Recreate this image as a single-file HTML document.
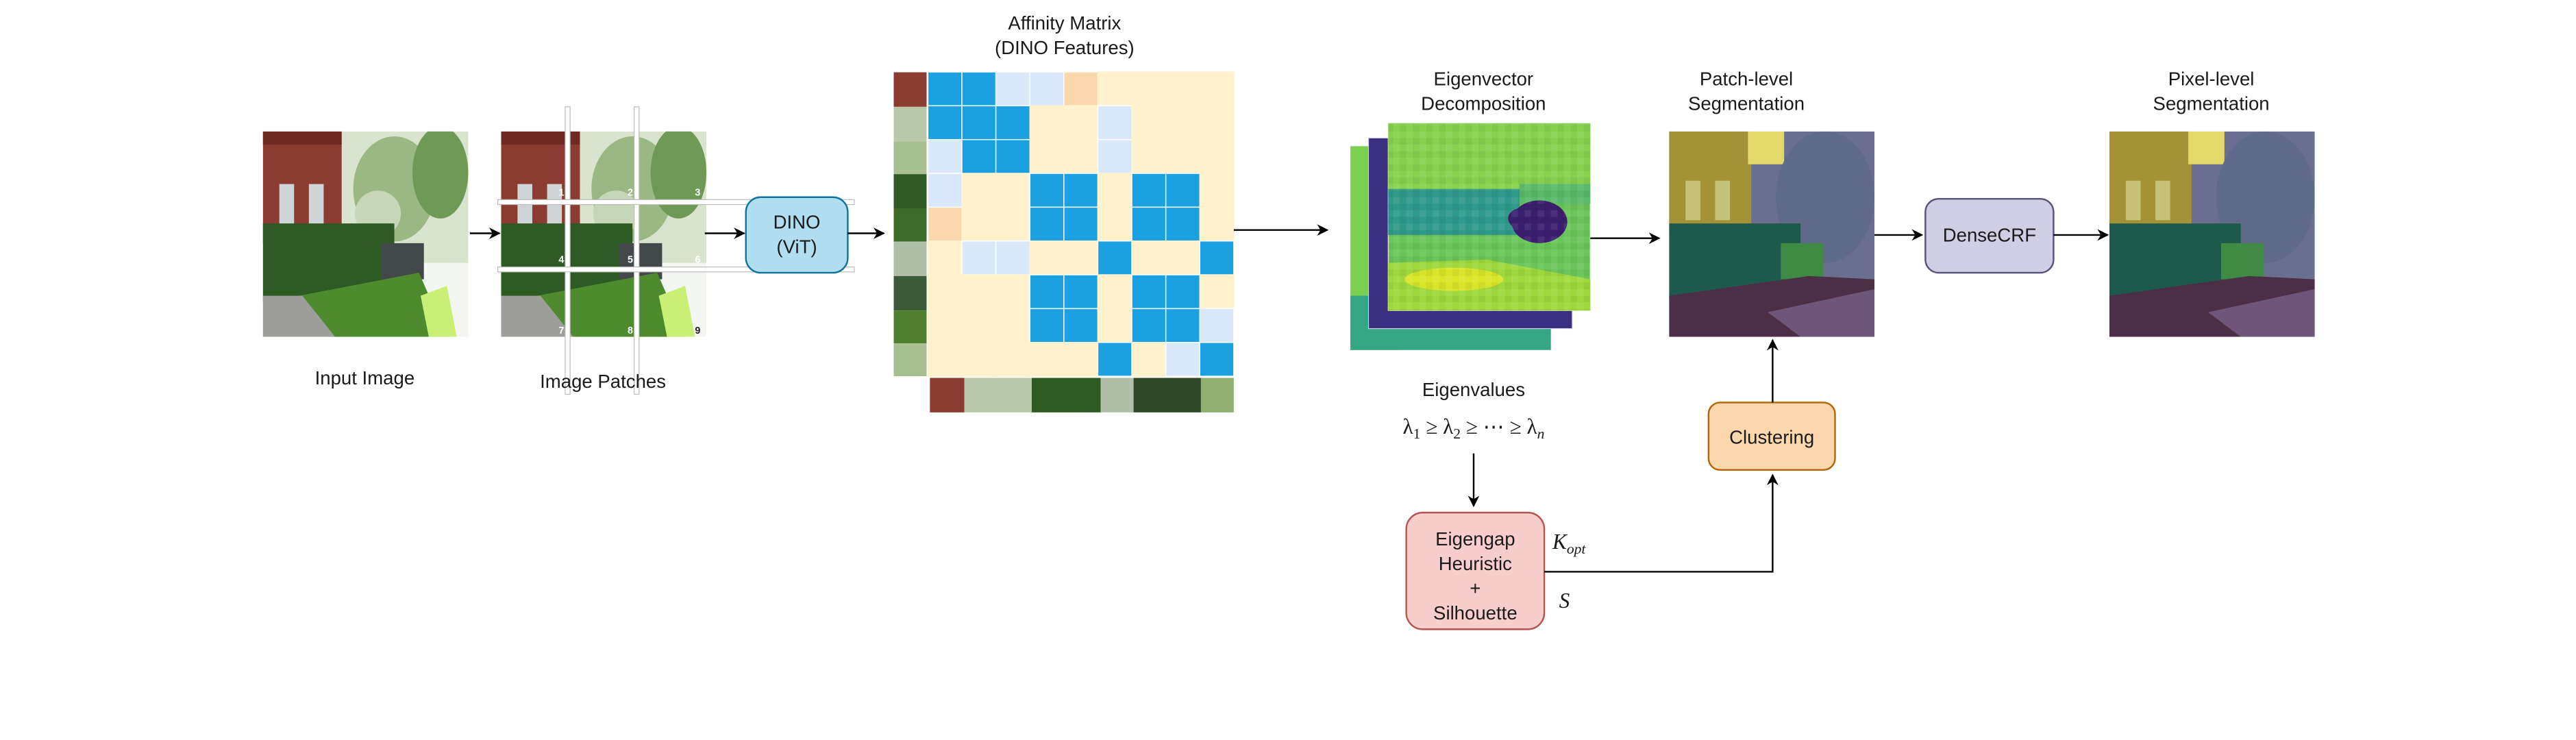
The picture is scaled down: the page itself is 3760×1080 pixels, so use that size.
<!DOCTYPE html>
<html><head><meta charset="utf-8"><style>
html,body{margin:0;padding:0;background:#fff;}
svg{display:block;}
text{font-family:"Liberation Sans","DejaVu Sans",sans-serif;fill:#1a1a1a;}
</style></head><body>
<svg width="3760" height="1080" viewBox="0 0 1568 450.4" xmlns="http://www.w3.org/2000/svg">
<defs>
<marker id="ah" viewBox="0 0 10 10" refX="9" refY="5" markerWidth="7" markerHeight="7" orient="auto" markerUnits="userSpaceOnUse">
<path d="M0,0 L10,5 L0,10 L3,5 z" fill="#000"/></marker>
<clipPath id="box"><rect x="0" y="0" width="125" height="125"/></clipPath>
<g id="scene" clip-path="url(#box)">
<rect x="0" y="0" width="125" height="125" fill="#f4f6f2"/>
<rect x="0" y="0" width="48" height="68" fill="#8b3b2f"/>
<rect x="0" y="0" width="48" height="8" fill="#6e2a22"/>
<rect x="10" y="32" width="9" height="26" fill="#cdd5d6"/>
<rect x="28" y="32" width="9" height="26" fill="#cdd5d6"/>
<rect x="48" y="0" width="77" height="80" fill="#d9e4cf"/>
<ellipse cx="80" cy="35" rx="25" ry="32" fill="#9ab884"/>
<ellipse cx="108" cy="25" rx="17" ry="28" fill="#6f9a55"/>
<ellipse cx="70" cy="50" rx="14" ry="14" fill="#c6d6b8"/>
<rect x="0" y="56" width="80" height="48" fill="#2e5a24"/>
<rect x="72" y="68" width="26" height="22" fill="#43484a"/>
<polygon points="22,100 95,86 112,125 42,125" fill="#4e8a2e"/>
<polygon points="0,100 24,100 44,125 0,125" fill="#9d9d9a"/>
<polygon points="96,100 112,94 118,125 101,125" fill="#c9ef74"/>
</g>
<g id="seg" clip-path="url(#box)">
<rect x="0" y="0" width="125" height="125" fill="#6b6f8f"/>
<rect x="0" y="0" width="50" height="62" fill="#a39236"/>
<rect x="10" y="30" width="9" height="24" fill="#c7c27a"/>
<rect x="28" y="30" width="9" height="24" fill="#c7c27a"/>
<rect x="48" y="0" width="22" height="20" fill="#e3d96a"/>
<ellipse cx="95" cy="40" rx="30" ry="40" fill="#5f6a88"/>
<rect x="0" y="56" width="80" height="46" fill="#1e5a4c"/>
<rect x="68" y="68" width="26" height="22" fill="#3f8a44"/>
<polygon points="0,100 85,88 125,90 125,125 0,125" fill="#4c2f47"/>
<polygon points="60,110 125,96 125,125 80,125" fill="#6e567a"/>
</g>
<pattern id="px" width="8" height="8" patternUnits="userSpaceOnUse">
<rect width="4" height="4" fill="#ffffff" opacity="0.07"/>
<rect x="4" y="4" width="4" height="4" fill="#000" opacity="0.05"/>
</pattern>
</defs>

<use href="#scene" x="160" y="80"/>
<text x="222" y="234" font-size="11.5" text-anchor="middle">Input Image</text>

<use href="#scene" x="305" y="80"/>
<g fill="#fff" stroke="#bbb" stroke-width="0.5">
<rect x="344" y="65" width="3" height="175"/>
<rect x="386" y="65" width="3" height="175"/>
<rect x="303" y="121.5" width="217" height="3"/>
<rect x="303" y="162.5" width="217" height="3"/>
</g>
<g font-size="6" font-weight="bold">
<text x="340" y="119" style="fill:#fff">1</text><text x="382" y="119" style="fill:#fff">2</text><text x="423" y="119" style="fill:#fff">3</text>
<text x="340" y="160" style="fill:#fff">4</text><text x="382" y="160" style="fill:#fff">5</text><text x="423" y="160" style="fill:#fff">6</text>
<text x="340" y="203" style="fill:#fff">7</text><text x="382" y="203" style="fill:#fff">8</text><text x="423" y="203" style="fill:#222">9</text>
</g>
<text x="367" y="236" font-size="11.5" text-anchor="middle">Image Patches</text>

<line x1="286" y1="142" x2="304" y2="142" stroke="#000" stroke-width="1" marker-end="url(#ah)"/>
<line x1="429" y1="142" x2="453" y2="142" stroke="#000" stroke-width="1" marker-end="url(#ah)"/>
<rect x="454" y="120" width="62" height="46" rx="9" fill="#b1ddf0" stroke="#10739e" stroke-width="1"/>
<text x="485" y="139" font-size="11.5" text-anchor="middle">DINO</text>
<text x="485" y="154" font-size="11.5" text-anchor="middle">(ViT)</text>
<line x1="516" y1="142" x2="538" y2="142" stroke="#000" stroke-width="1" marker-end="url(#ah)"/>

<text x="648" y="18" font-size="11.5" text-anchor="middle">Affinity Matrix</text>
<text x="648" y="33" font-size="11.5" text-anchor="middle">(DINO Features)</text>
<g>
<rect x="544" y="44" width="20" height="21" fill="#8b3b2f"/>
<rect x="544" y="65" width="20" height="21" fill="#b8c8a8"/>
<rect x="544" y="86" width="20" height="20" fill="#a8c090"/>
<rect x="544" y="106" width="20" height="21" fill="#2e5a24"/>
<rect x="544" y="127" width="20" height="20" fill="#3c6a2a"/>
<rect x="544" y="147" width="20" height="21" fill="#b0bfa8"/>
<rect x="544" y="168" width="20" height="21" fill="#3a5a38"/>
<rect x="544" y="189" width="20" height="20" fill="#4e8030"/>
<rect x="544" y="209" width="20" height="20" fill="#a8c090"/>
<rect x="566" y="230" width="21" height="21" fill="#8b3b2f"/>
<rect x="587" y="230" width="41" height="21" fill="#b8c8a8"/>
<rect x="628" y="230" width="42" height="21" fill="#2e5a24"/>
<rect x="670" y="230" width="20" height="21" fill="#b0bfa8"/>
<rect x="690" y="230" width="41" height="21" fill="#2f4a28"/>
<rect x="731" y="230" width="20" height="21" fill="#8fb070"/>
</g>
<g id="mat" stroke="#ffffff" stroke-width="0.6"></g>
<script>
(function(){
var rows=["BBLLOYYYY","BBBYYLYYY","LBBYYLYYY","LYYBBYBBY","OYYBBYBBY","YLLYYBYYB","YYYBBYBBY","YYYBBYBBL","YYYYYBYLB"];
var col={B:"#1ba1e2",L:"#dae8fc",O:"#fad7ac",Y:"#fff2cc"};
var g=document.getElementById("mat");var ns="http://www.w3.org/2000/svg";
var x0=564.8,y0=43.8,w=(751-564.8)/9,h=(229-43.8)/9;
for(var r=0;r<9;r++)for(var c=0;c<9;c++){var ch=rows[r][c];var e=document.createElementNS(ns,"rect");
e.setAttribute("x",x0+c*w);e.setAttribute("y",y0+r*h);e.setAttribute("width",w);e.setAttribute("height",h);
e.setAttribute("fill",col[ch]);e.setAttribute("stroke",ch=="Y"?col[ch]:"#ffffff");g.appendChild(e);}
})();
</script>
<line x1="751" y1="140" x2="808" y2="140" stroke="#000" stroke-width="1" marker-end="url(#ah)"/>

<text x="903" y="52" font-size="11.5" text-anchor="middle">Eigenvector</text>
<text x="903" y="67" font-size="11.5" text-anchor="middle">Decomposition</text>
<rect x="822" y="89" width="122" height="124" fill="#2a8a8a" stroke="#eee" stroke-width="0.5"/>
<rect x="822" y="89" width="30" height="124" fill="#7ad151"/>
<rect x="822" y="180" width="122" height="33" fill="#35a785"/>
<rect x="833" y="84" width="124" height="116" fill="#3b2f7f" stroke="#ccd" stroke-width="0.5"/>
<rect x="845" y="75" width="123" height="114" fill="#6cc55a" stroke="#eee" stroke-width="0.5"/>
<rect x="845" y="75" width="123" height="40" fill="#86d24e"/>
<rect x="845" y="115" width="80" height="28" fill="#2f9a8a"/>
<rect x="925" y="112" width="43" height="12" fill="#5ab86a"/>
<ellipse cx="937" cy="135" rx="17" ry="13" fill="#3b1f6e"/>
<ellipse cx="925" cy="133" rx="7" ry="6" fill="#3b1f6e"/>
<polygon points="845,160 905,158 968,170 968,189 845,189" fill="#9fd83c"/>
<ellipse cx="885" cy="170" rx="30" ry="7" fill="#d9e52a"/>
<rect x="845" y="75" width="123" height="114" fill="url(#px)"/>
<line x1="968" y1="145" x2="1010" y2="145" stroke="#000" stroke-width="1" marker-end="url(#ah)"/>

<text x="1063" y="52" font-size="11.5" text-anchor="middle">Patch-level</text>
<text x="1063" y="67" font-size="11.5" text-anchor="middle">Segmentation</text>
<use href="#seg" x="1016" y="80"/>
<line x1="1141" y1="143" x2="1170" y2="143" stroke="#000" stroke-width="1" marker-end="url(#ah)"/>
<rect x="1172" y="121" width="78" height="45" rx="8" fill="#d0cee2" stroke="#56517e" stroke-width="1"/>
<text x="1211" y="147" font-size="11.5" text-anchor="middle">DenseCRF</text>
<line x1="1250" y1="143" x2="1283" y2="143" stroke="#000" stroke-width="1" marker-end="url(#ah)"/>

<text x="1346" y="52" font-size="11.5" text-anchor="middle">Pixel-level</text>
<text x="1346" y="67" font-size="11.5" text-anchor="middle">Segmentation</text>
<use href="#seg" x="1284" y="80"/>

<text x="897" y="241" font-size="11.5" text-anchor="middle">Eigenvalues</text>
<text x="897" y="264" font-size="13" text-anchor="middle" style="font-family:'Liberation Serif',serif">λ<tspan font-size="9" dy="3">1</tspan><tspan dy="-3"> ≥ λ</tspan><tspan font-size="9" dy="3">2</tspan><tspan dy="-3"> ≥ ⋯ ≥ λ</tspan><tspan font-size="9" dy="3" font-style="italic">n</tspan></text>
<line x1="897" y1="276" x2="897" y2="308" stroke="#000" stroke-width="1" marker-end="url(#ah)"/>
<rect x="856" y="312" width="84" height="71" rx="10" fill="#f8cecc" stroke="#b85450" stroke-width="1"/>
<text x="898" y="332" font-size="11.5" text-anchor="middle">Eigengap</text>
<text x="898" y="347" font-size="11.5" text-anchor="middle">Heuristic</text>
<text x="898" y="362" font-size="11.5" text-anchor="middle">+</text>
<text x="898" y="377" font-size="11.5" text-anchor="middle">Silhouette</text>
<text x="945" y="334" font-size="13" font-style="italic" style="font-family:'Liberation Serif',serif">K<tspan font-size="9" dy="3">opt</tspan></text>
<text x="949" y="370" font-size="13" font-style="italic" style="font-family:'Liberation Serif',serif">S</text>
<polyline points="940,348 1079,348 1079,289" fill="none" stroke="#000" stroke-width="1" marker-end="url(#ah)"/>
<rect x="1040" y="245" width="77" height="41" rx="7" fill="#fad7ac" stroke="#b46504" stroke-width="1"/>
<text x="1078.5" y="270" font-size="11.5" text-anchor="middle">Clustering</text>
<line x1="1079" y1="245" x2="1079" y2="207" stroke="#000" stroke-width="1" marker-end="url(#ah)"/>
</svg>
</body></html>
